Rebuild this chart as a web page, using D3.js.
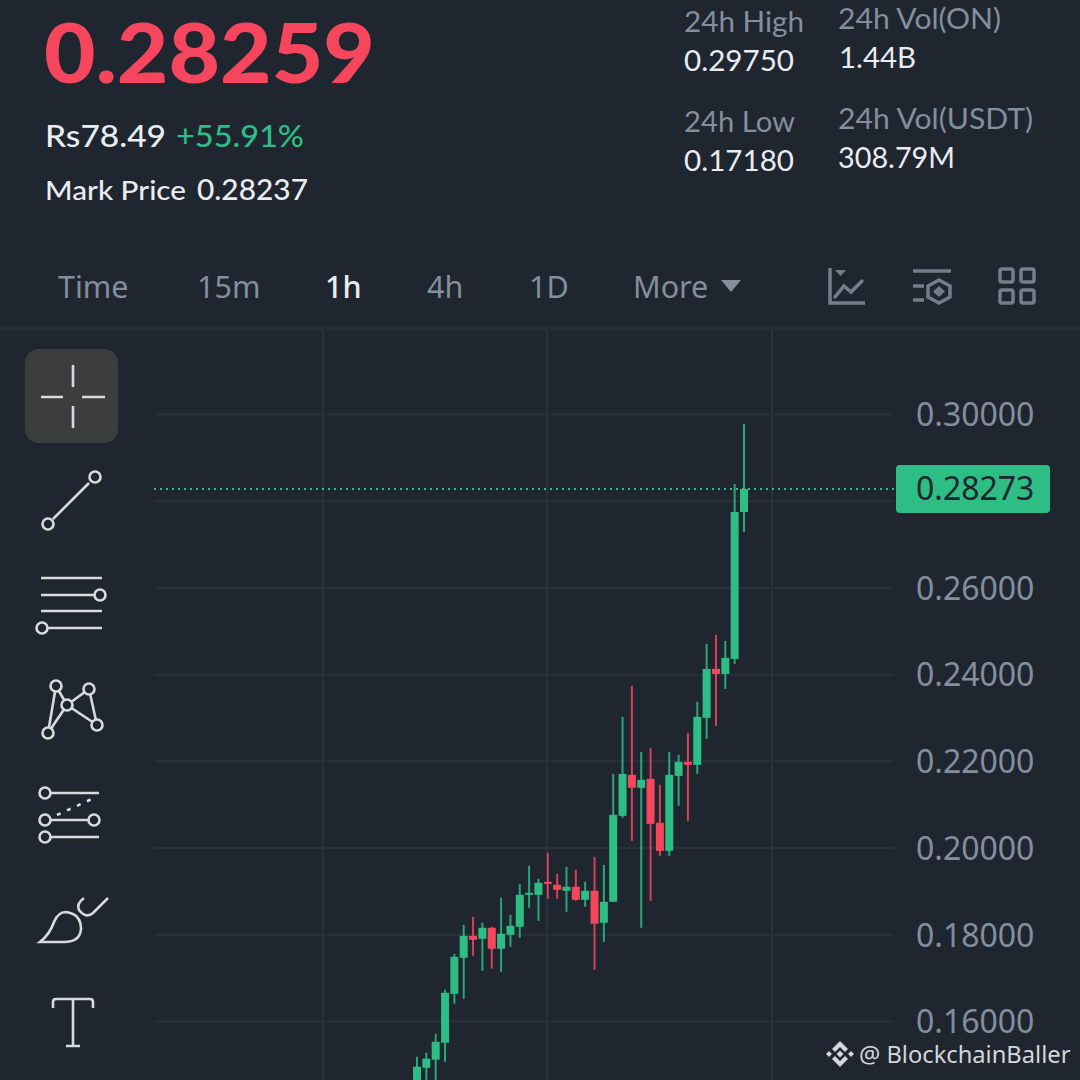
<!DOCTYPE html>
<html>
<head>
<meta charset="utf-8">
<script src="https://cdn.jsdelivr.net/npm/d3@7"></script>
<style>
html, body { margin: 0; padding: 0; background: #1f2630; }
svg { display: block; }
text { font-family: "Noto Sans", sans-serif; }
text.head { font-family: Lato, sans-serif; }
</style>
</head>
<body>
<svg id="chart" width="1080" height="1080"></svg>
<script>
// candles, oldest first
var opens = [0.14530, 0.14922, 0.15107, 0.15499, 0.16628, 0.17458, 0.17966, 0.17896, 0.18150, 0.17666, 0.17989, 0.18173,
  0.18911, 0.18911, 0.19210, 0.19141, 0.19003, 0.19095, 0.18795, 0.19003, 0.18265, 0.18749, 0.20732, 0.21677,
  0.21378, 0.21585, 0.20571, 0.19925, 0.21654, 0.21977, 0.21908, 0.22992, 0.24121, 0.24006, 0.24352, 0.27741];
var highs = [0.15176, 0.15268, 0.15706, 0.16721, 0.17551, 0.18219, 0.18404, 0.18265, 0.18173, 0.18842, 0.18450, 0.19164,
  0.19579, 0.19280, 0.19879, 0.19395, 0.19556, 0.19487, 0.19210, 0.19787, 0.19602, 0.21700, 0.23015, 0.23729,
  0.22208, 0.22300, 0.21447, 0.22208, 0.22138, 0.22646, 0.23360, 0.24698, 0.24905, 0.24767, 0.28386, 0.29770];
var lows = [0.14410, 0.14410, 0.14530, 0.15061, 0.16398, 0.16513, 0.17504, 0.17159, 0.17205, 0.17136, 0.17712, 0.17919,
  0.18611, 0.18311, 0.18819, 0.18819, 0.18519, 0.18772, 0.18634, 0.17182, 0.17827, 0.18749, 0.20686, 0.20156,
  0.18150, 0.18772, 0.19810, 0.19810, 0.20963, 0.20617, 0.21700, 0.22507, 0.22807, 0.23660, 0.24236, 0.27280];
var closes = [0.14945, 0.15130, 0.15522, 0.16651, 0.17481, 0.17966, 0.17873, 0.18150, 0.17666, 0.18012, 0.18196, 0.18911,
  0.18957, 0.19187, 0.19164, 0.19026, 0.19095, 0.18795, 0.19003, 0.18242, 0.18749, 0.20755, 0.21700, 0.21378,
  0.21562, 0.20548, 0.19925, 0.21677, 0.21977, 0.21908, 0.23015, 0.24121, 0.24006, 0.24375, 0.27741, 0.28271];

var priceTicks = [0.30, 0.28, 0.26, 0.24, 0.22, 0.20, 0.18, 0.16];
var priceLabels = [0.30, 0.26, 0.24, 0.22, 0.20, 0.18, 0.16];
var lastPrice = 0.28271;
var lastPriceLabel = "0.28273";
var timeframes = ["Time", "15m", "1h", "4h", "1D", "More"];
var timeframeX = [58, 197, 325, 427, 529, 633];
var statLabels = ["24h High", "24h Vol(ON)", "24h Low", "24h Vol(USDT)"];
var statValues = ["0.29750", "1.44B", "0.17180", "308.79M"];

var GREEN = "#2ebd85", RED = "#f6465d", GREY = "#848e9c", WHITE = "#eaecef", GRID = "#2a313b";
var ICON = "#d9dadc", ICON2 = "#767d8a";

var svg = d3.select("#chart");

var y = d3.scaleLinear().domain([0.16, 0.30]).range([1021, 414]);
var x = d3.scaleLinear().domain([0, opens.length - 1]).range([417, 744]);

function label(t, xx, yy, size, fill, weight) {
  return svg.append("text").attr("x", xx).attr("y", yy)
    .attr("font-size", size).attr("fill", fill)
    .attr("font-weight", weight || 400).text(t);
}
function head(t, xx, yy, size, fill, weight, len) {
  var s = label(t, xx, yy, size, fill, weight).attr("class", "head");
  if (len) s.attr("textLength", len).attr("lengthAdjust", "spacingAndGlyphs");
  return s;
}

// header
head("0.28259", 44, 83, 81, RED, 900, 331);
head("Rs78.49", 45, 147, 30, WHITE, 500, 121);
head("+55.91%", 176, 147, 30, GREEN, 500, 128);
head("Mark Price", 45, 200, 27, WHITE, 500, 141);
head("0.28237", 197, 200, 28, WHITE, 500, 111);

head(statLabels[0], 684, 32, 29, GREY, 400, 120);
head(statValues[0], 684, 71, 29, WHITE, 400, 110);
head(statLabels[1], 838, 29, 29, GREY, 400, 163);
head(statValues[1], 839, 68, 29, WHITE, 400, 77);
head(statLabels[2], 684, 132, 29, GREY, 400, 111);
head(statValues[2], 684, 171, 29, WHITE, 400, 110);
head(statLabels[3], 838, 129, 29, GREY, 400, 195);
head(statValues[3], 838, 168, 29, WHITE, 400, 117);

// timeframe row
timeframes.forEach(function (t, i) {
  label(t, timeframeX[i], 298, 30.5, t === "1h" ? WHITE : GREY, t === "1h" ? 500 : 400);
});
svg.append("path").attr("d", "M721 280 H741 L731 292 Z").attr("fill", GREY);

// top right icons
var g1 = svg.append("g").attr("fill", "none").attr("stroke", ICON2).attr("stroke-width", 3.5);
g1.append("path").attr("d", "M830 268 V303 H865");
g1.append("path").attr("d", "M835 297 L844 286 L851 292 L862 281").attr("stroke-linecap", "round");
svg.append("path").attr("d", "M835 270 H846 L840.500 276 Z").attr("fill", ICON2);
g1.append("path").attr("d", "M913 271 H951 M913 286 H924 M913 300 H924");
g1.append("path").attr("d", "M939 280 L950 286 V297 L939 303 L928 297 V286 Z");
svg.append("path").attr("d", "M939 286 L945 291.500 L939 297 L933 291.500 Z").attr("fill", ICON2);
[[1000, 269], [1021, 269], [1000, 290], [1021, 290]].forEach(function (p) {
  g1.append("rect").attr("x", p[0]).attr("y", p[1]).attr("width", 13).attr("height", 13).attr("rx", 2);
});

// separator below the tabs
svg.append("rect").attr("x", 0).attr("y", 326).attr("width", 1080).attr("height", 5).attr("fill", "#262c36");

// grid
var yAxis = d3.axisLeft(y).tickValues(priceTicks).tickSize(739).tickFormat("");
var gridG = svg.append("g").attr("transform", "translate(893,0)").call(yAxis);
gridG.select(".domain").remove();
gridG.selectAll("line").attr("stroke", GRID).attr("stroke-width", 2);

svg.append("g").selectAll("line").data([323, 547, 772]).join("line")
  .attr("x1", function (d) { return d; }).attr("x2", function (d) { return d; })
  .attr("y1", 331).attr("y2", 1080)
  .attr("stroke", GRID).attr("stroke-width", 2);

// price labels
var axisG = svg.append("g").attr("transform", "translate(916,1.5)")
  .call(d3.axisRight(y).tickValues(priceLabels).tickSize(0).tickPadding(0).tickFormat(d3.format(".5f")));
axisG.select(".domain").remove();
axisG.selectAll("text").attr("font-family", "Noto Sans").attr("font-size", 32).attr("fill", GREY);

// candles
var idx = d3.range(opens.length);
var colorOf = function (i) { return closes[i] >= opens[i] ? GREEN : RED; };
svg.append("g").selectAll("line").data(idx).join("line")
  .attr("x1", function (i) { return x(i); }).attr("x2", function (i) { return x(i); })
  .attr("y1", function (i) { return y(highs[i]); }).attr("y2", function (i) { return y(lows[i]); })
  .attr("stroke", colorOf).attr("stroke-width", 2).attr("stroke-opacity", 0.85);
svg.append("g").selectAll("rect").data(idx).join("rect")
  .attr("x", function (i) { return x(i) - 4; })
  .attr("width", 8)
  .attr("y", function (i) { return y(Math.max(opens[i], closes[i])); })
  .attr("height", function (i) { return Math.max(2, Math.abs(y(opens[i]) - y(closes[i]))); })
  .attr("fill", colorOf);

// last price line and tag
svg.append("line").attr("x1", 154).attr("x2", 896)
  .attr("y1", y(lastPrice)).attr("y2", y(lastPrice))
  .attr("stroke", GREEN).attr("stroke-width", 2).attr("stroke-dasharray", "2 4");
svg.append("rect").attr("x", 896).attr("y", y(lastPrice) - 24).attr("width", 154).attr("height", 48).attr("rx", 4).attr("fill", GREEN);
label(lastPriceLabel, 916, y(lastPrice) + 11, 32, "#1f2630");

// drawing tools
svg.append("rect").attr("x", 25).attr("y", 349).attr("width", 93).attr("height", 94).attr("rx", 14).attr("fill", "#3c3d3f");
var t = svg.append("g").attr("fill", "none").attr("stroke", ICON).attr("stroke-width", 2.6);
t.append("path").attr("d", "M73 365 V387 M73 406 V428 M41 397 H63 M82 397 H105");
t.append("path").attr("d", "M53 519 L89 483");
[[48, 524], [95, 477]].forEach(function (p) { t.append("circle").attr("cx", p[0]).attr("cy", p[1]).attr("r", 5.500); });
t.append("path").attr("d", "M41 578 H102 M41 595 H94 M41 611 H102 M48 628 H102");
[[100, 595], [42, 628]].forEach(function (p) { t.append("circle").attr("cx", p[0]).attr("cy", p[1]).attr("r", 5.500); });
t.append("path").attr("d", "M56 686 L48 733 M56 686 L67 705 M89 689 L67 705 M89 689 L97 725 M67 705 L97 725 M67 705 L48 733");
[[56, 686], [89, 689], [67, 705], [97, 725], [48, 733]].forEach(function (p) {
  t.append("circle").attr("cx", p[0]).attr("cy", p[1]).attr("r", 5.500).attr("fill", "#1f2630");
});
t.append("path").attr("d", "M50 793 H99 M50 820 H89 M50 837 H99");
t.append("path").attr("d", "M57 815 L94 798").attr("stroke-dasharray", "4 7");
[[45, 793], [45, 820], [94, 820], [45, 837]].forEach(function (p) {
  t.append("circle").attr("cx", p[0]).attr("cy", p[1]).attr("r", 5.500);
});
t.append("path").attr("d", "M40 942 Q50 934 54 922 Q58 912 66 912 Q81 914 81 929 Q80 942 64 942 Z");
t.append("path").attr("d", "M84 898 Q76 904 79 910 Q86 919 93 913 L108 898");
t.append("path").attr("d", "M53 1008 V1002 Q53 999 56 999 H90 Q93 999 93 1002 V1008 M73 999 V1046 M66 1046 H80");

// watermark logo and handle
var wm = svg.append("g").attr("fill", "#d4d6d9");
[[829, 1054, 3], [851, 1054, 3], [840, 1054, 3.500]].forEach(function (p) {
  wm.append("path").attr("d", "M" + (p[0] - p[2]) + " " + p[1] + " L" + p[0] + " " + (p[1] - p[2]) + " L" + (p[0] + p[2]) + " " + p[1] + " L" + p[0] + " " + (p[1] + p[2]) + " Z");
});
wm.append("path").attr("d", "M840 1041 L848 1049 L845 1052 L840 1047 L835 1052 L832 1049 Z");
wm.append("path").attr("d", "M840 1067 L848 1059 L845 1056 L840 1061 L835 1056 L832 1059 Z");
label("@ BlockchainBaller", 859, 1063, 23.7, "#d4d6d9");
</script>
</body>
</html>
